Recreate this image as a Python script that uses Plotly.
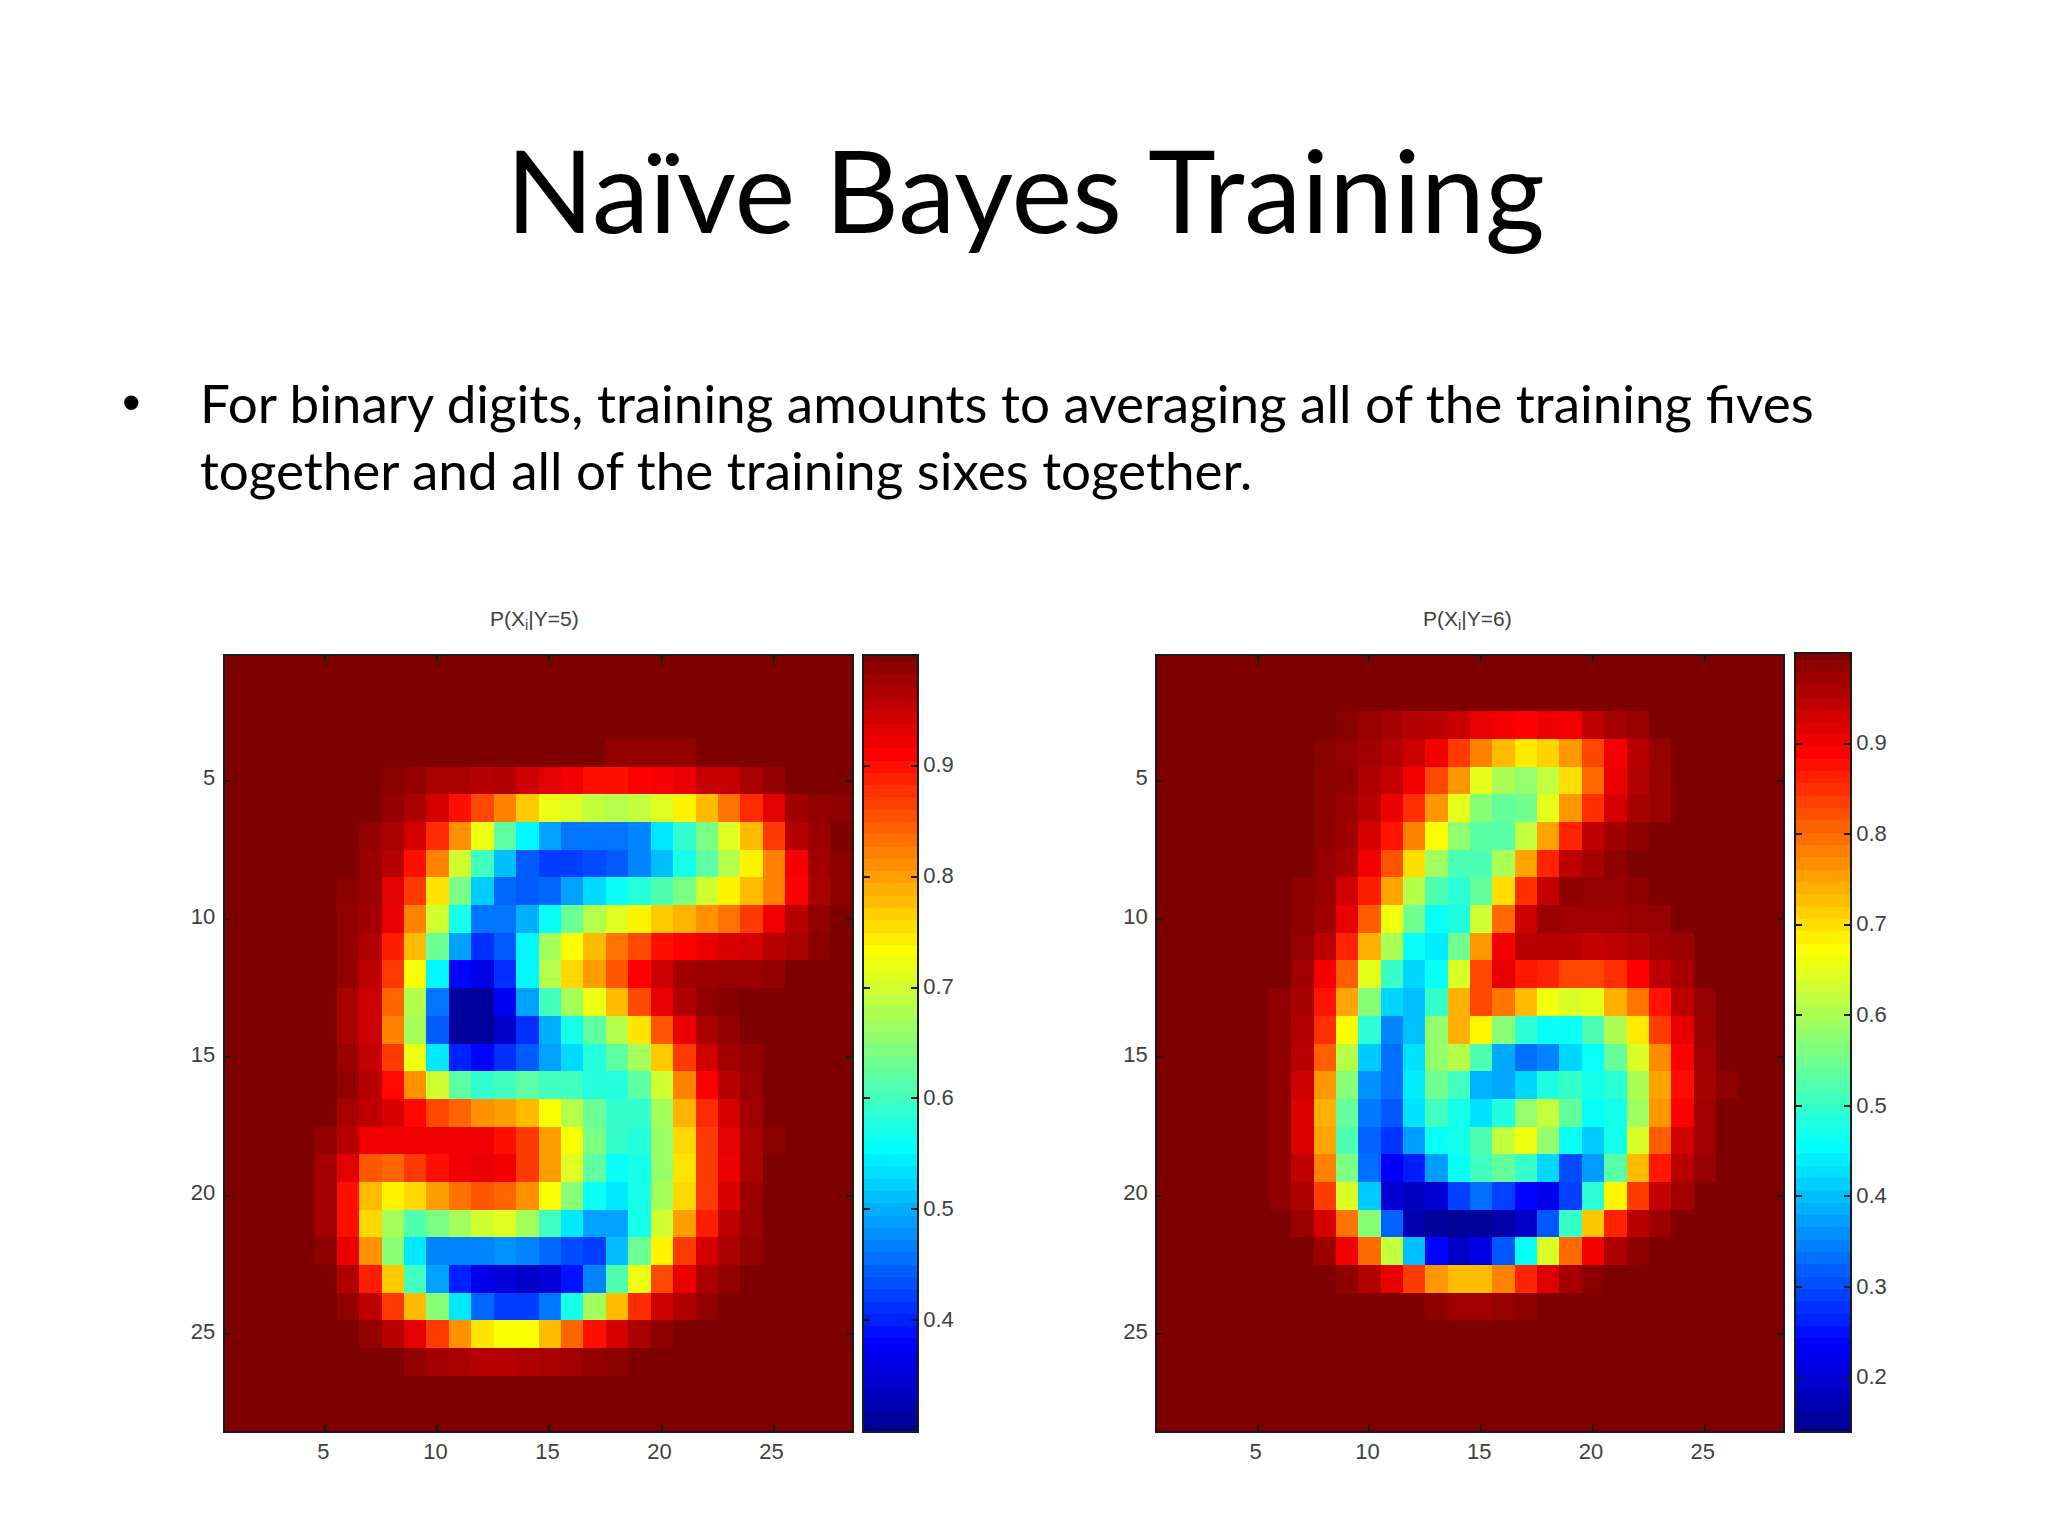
import numpy as np
import plotly.graph_objects as go

B = .999
GRID = list(range(1, 29))
TICKS = [5, 10, 15, 20, 25]

FIVE = [
    [B]*28,
    [B]*28,
    [B]*28,
    [B]*17 + [.985,.985,.985,.985] + [B]*7,
    [B]*7 + [.99,.985,.97,.97,.96,.965,.945,.93,.92,.90,.90,.91,.915,.925,.95,.95,.97,.985] + [B]*3,
    [B]*7 + [.985,.97,.94,.90,.86,.82,.77,.72,.71,.69,.68,.69,.71,.74,.78,.83,.88,.93,.975,.985,.99],
    [B]*6 + [.985,.97,.94,.88,.81,.72,.62,.55,.49,.46,.46,.46,.47,.54,.59,.64,.71,.78,.87,.96,.98] + [B],
    [B]*6 + [.98,.96,.90,.82,.70,.60,.51,.44,.42,.42,.43,.44,.47,.51,.57,.62,.68,.74,.82,.915,.975,.99],
    [B]*5 + [.99,.98,.93,.87,.75,.64,.52,.45,.44,.45,.49,.53,.56,.58,.61,.64,.70,.74,.78,.82,.91,.97,.99],
    [B]*5 + [.985,.975,.925,.82,.70,.57,.46,.46,.50,.56,.63,.68,.71,.74,.77,.785,.81,.83,.87,.92,.96,.985] + [B],
    [B]*5 + [.985,.965,.89,.78,.63,.49,.41,.44,.55,.67,.73,.78,.83,.86,.90,.91,.925,.935,.94,.96,.97,.99] + [B],
    [B]*5 + [.985,.955,.87,.73,.55,.38,.36,.41,.55,.68,.76,.80,.85,.91,.945,.975,.98,.98,.98,.985] + [B]*3,
    [B]*5 + [.97,.945,.84,.68,.46,.31,.31,.37,.49,.60,.67,.72,.78,.86,.925,.965,.985,.995] + [B]*5,
    [B]*5 + [.97,.945,.82,.67,.44,.31,.31,.34,.41,.50,.57,.62,.68,.75,.85,.925,.97,.985] + [B]*5,
    [B]*5 + [.98,.95,.87,.72,.54,.40,.38,.41,.44,.49,.53,.58,.62,.67,.77,.87,.945,.975,.985] + [B]*4,
    [B]*5 + [.985,.96,.905,.81,.70,.62,.59,.60,.62,.60,.60,.58,.58,.62,.70,.82,.91,.96,.98] + [B]*4,
    [B]*5 + [.97,.955,.935,.905,.86,.84,.81,.80,.78,.73,.68,.63,.59,.59,.67,.785,.88,.94,.975] + [B]*4,
    [B]*4 + [.985,.96,.92,.92,.92,.92,.92,.92,.90,.87,.80,.73,.64,.59,.58,.66,.76,.87,.93,.97,.99] + [B]*3,
    [B]*4 + [.975,.93,.85,.84,.87,.90,.92,.925,.92,.87,.80,.71,.62,.56,.57,.66,.75,.87,.925,.97] + [B]*4,
    [B]*4 + [.975,.90,.78,.74,.76,.80,.83,.85,.84,.81,.73,.65,.56,.54,.57,.67,.76,.87,.935,.98] + [B]*4,
    [B]*4 + [.975,.90,.76,.67,.61,.64,.67,.70,.71,.67,.60,.54,.49,.49,.57,.70,.80,.89,.955,.98] + [B]*4,
    [B]*4 + [.99,.925,.81,.65,.54,.47,.47,.47,.48,.47,.45,.43,.42,.51,.63,.74,.87,.94,.97,.985] + [B]*4,
    [B]*5 + [.965,.89,.77,.60,.49,.40,.36,.35,.34,.35,.39,.47,.61,.72,.86,.925,.97,.985] + [B]*5,
    [B]*5 + [.985,.955,.87,.78,.65,.54,.45,.42,.42,.46,.57,.67,.78,.88,.945,.965,.985] + [B]*6,
    [B]*6 + [.985,.96,.93,.87,.81,.75,.73,.73,.78,.84,.90,.94,.97,.99] + [B]*8,
    [B]*8 + [.985,.975,.97,.96,.96,.965,.97,.975,.985,.99] + [B]*10,
    [B]*28,
    [B]*28,
]

SIX = [
    [B]*28,
    [B]*28,
    [B]*8 + [.99,.975,.965,.955,.95,.935,.91,.90,.89,.905,.90,.945,.965,.975] + [B]*6,
    [B]*7 + [.99,.98,.97,.955,.935,.90,.84,.78,.73,.69,.71,.76,.83,.90,.95,.98] + [B]*5,
    [B]*7 + [.985,.985,.96,.94,.90,.83,.76,.65,.60,.58,.62,.70,.80,.905,.955,.975] + [B]*5,
    [B]*7 + [.985,.975,.95,.905,.85,.76,.65,.57,.54,.55,.65,.76,.85,.925,.965,.975] + [B]*5,
    [B]*7 + [.985,.97,.925,.875,.78,.67,.58,.53,.53,.62,.75,.86,.945,.97,.985] + [B]*6,
    [B]*7 + [.98,.965,.90,.82,.70,.59,.52,.52,.60,.75,.86,.945,.965,.985] + [B]*7,
    [B]*6 + [.985,.975,.93,.865,.75,.61,.52,.49,.54,.70,.85,.94,.985,.98,.98,.985] + [B]*6,
    [B]*6 + [.985,.97,.91,.81,.66,.55,.46,.48,.63,.80,.93,.975,.97,.97,.97,.975,.98] + [B]*5,
    [B]*6 + [.98,.945,.86,.74,.60,.46,.44,.55,.76,.90,.95,.95,.95,.94,.945,.955,.97,.975] + [B]*4,
    [B]*6 + [.97,.90,.81,.65,.50,.42,.46,.64,.83,.91,.87,.86,.83,.83,.85,.89,.945,.965] + [B]*4,
    [B]*5 + [.985,.965,.875,.75,.57,.42,.40,.50,.74,.83,.79,.73,.66,.64,.65,.74,.79,.875,.945,.98] + [B]*3,
    [B]*5 + [.985,.955,.85,.67,.49,.35,.40,.58,.74,.68,.57,.49,.46,.46,.52,.60,.69,.84,.91,.975] + [B]*3,
    [B]*5 + [.985,.95,.81,.61,.41,.33,.43,.58,.61,.52,.38,.33,.35,.42,.46,.54,.64,.77,.89,.97] + [B]*3,
    [B]*5 + [.985,.93,.76,.57,.36,.33,.44,.55,.51,.39,.38,.42,.48,.50,.47,.49,.60,.75,.88,.965,.985] + [B]*2,
    [B]*5 + [.985,.92,.74,.54,.34,.31,.43,.51,.47,.43,.48,.58,.62,.54,.46,.47,.59,.76,.89,.97] + [B]*3,
    [B]*5 + [.985,.92,.75,.52,.32,.28,.37,.46,.47,.52,.62,.66,.58,.46,.41,.47,.64,.81,.93,.97] + [B]*3,
    [B]*5 + [.985,.945,.78,.56,.33,.23,.26,.37,.46,.51,.54,.50,.42,.30,.37,.53,.73,.87,.95,.98] + [B]*3,
    [B]*5 + [.985,.96,.84,.64,.41,.20,.185,.20,.29,.33,.29,.24,.22,.29,.49,.68,.84,.94,.97] + [B]*4,
    [B]*6 + [.975,.925,.79,.57,.32,.17,.15,.145,.15,.165,.19,.31,.50,.72,.86,.95,.975] + [B]*5,
    [B]*7 + [.975,.90,.80,.62,.40,.24,.19,.21,.31,.46,.64,.80,.90,.96,.985] + [B]*6,
    [B]*8 + [.985,.955,.91,.84,.76,.73,.73,.78,.86,.92,.965,.99] + [B]*8,
    [B]*12 + [.985,.97,.97,.98,.985] + [B]*11,
    [B]*28,
    [B]*28,
    [B]*28,
    [B]*28,
]

assert all(len(r) == 28 for r in FIVE) and len(FIVE) == 28
assert all(len(r) == 28 for r in SIX) and len(SIX) == 28

JET = [[0, "rgb(0,0,143)"], [.111, "rgb(0,0,255)"], [.365, "rgb(0,255,255)"],
       [.619, "rgb(255,255,0)"], [.873, "rgb(255,0,0)"], [1, "rgb(127,0,0)"]]

W, H = 2048, 1536
INK = "#1a1a1a"
GREY = "#404040"
SANS = "Liberation Sans"
SLIDE = "Lato"


def fx(p):
    return p / W


def fy(p):
    return 1 - p / H


fig = go.Figure()
layout = {}
annots = []


def panel(idx, z, zmin, zmax, cbticks, title, x0, x1, cx0, cx1, y0, y1, ctop, title_x):
    a = 2 * idx - 1
    b = 2 * idx
    fig.add_trace(go.Heatmap(z=z, x=GRID, y=GRID, zmin=zmin, zmax=zmax, colorscale=JET,
                             showscale=False, xaxis=f"x{a}", yaxis=f"y{a}"))
    levels = np.linspace(zmin, zmax, 64)
    fig.add_trace(go.Heatmap(z=[[v] for v in levels], x=[0], y=levels, zmin=zmin, zmax=zmax,
                             colorscale=JET, showscale=False, xaxis=f"x{b}", yaxis=f"y{b}"))
    common = dict(showline=True, linecolor=INK, linewidth=1.5, mirror="ticks", ticks="inside",
                  ticklen=6, tickcolor=INK, tickwidth=1.5, showgrid=False, zeroline=False,
                  tickfont=dict(family=SANS, size=22, color=GREY))
    layout[f"xaxis{a}"] = dict(common, domain=[fx(x0), fx(x1)], range=[.5, 28.5], tickmode="array",
                               tickvals=TICKS, anchor=f"y{a}", ticklabelshift=-2)
    layout[f"yaxis{a}"] = dict(common, domain=[fy(y1), fy(y0)], range=[28.5, .5], tickmode="array",
                               tickvals=TICKS, anchor=f"x{a}", ticklabelstandoff=3, ticklabelshift=3)
    layout[f"xaxis{b}"] = dict(showline=True, linecolor=INK, linewidth=1.5, mirror=True,
                               showticklabels=False, ticks="", showgrid=False, zeroline=False,
                               domain=[fx(cx0), fx(cx1)], range=[-.5, .5], anchor=f"y{b}")
    layout[f"yaxis{b}"] = dict(common, domain=[fy(y1), fy(ctop)], range=[zmin, zmax], tickmode="array",
                               tickvals=cbticks, ticktext=[f"{t:.1f}" for t in cbticks],
                               side="right", anchor=f"x{b}", ticklabelshift=-1)
    annots.append(dict(text=title, x=fx(title_x), y=fy(620), xref="paper", yref="paper",
                       showarrow=False, xanchor="center", yanchor="middle",
                       font=dict(family=SANS, size=21, color=GREY)))


panel(1, FIVE, .30, .999, [.4, .5, .6, .7, .8, .9], "P(X<sub>i</sub>|Y=5)", 224.5, 852, 864, 917, 656, 1431, 656, 534)
panel(2, SIX, .141, .999, [.2, .3, .4, .5, .6, .7, .8, .9], "P(X<sub>i</sub>|Y=6)", 1157, 1783, 1796, 1850, 656, 1431, 654, 1467)

annots.append(dict(text="Naïve Bayes Training", x=fx(1025), y=fy(188), xref="paper", yref="paper",
                   showarrow=False, xanchor="center", yanchor="middle",
                   font=dict(family=SLIDE, size=115, color="#000000")))
annots.append(dict(text="•", x=fx(120), y=fy(402), xref="paper", yref="paper", showarrow=False,
                   xanchor="left", yanchor="middle", font=dict(family="Liberation Sans", size=53, color="#000000")))
annots.append(dict(text="For binary digits, training amounts to averaging all of the training fives",
                   x=fx(198), y=fy(402), xref="paper", yref="paper", showarrow=False, xanchor="left",
                   yanchor="middle", font=dict(family=SLIDE, size=53, color="#000000")))
annots.append(dict(text="together and all of the training sixes together.",
                   x=fx(198), y=fy(470), xref="paper", yref="paper", showarrow=False, xanchor="left",
                   yanchor="middle", font=dict(family=SLIDE, size=53, color="#000000")))

fig.update_layout(width=W, height=H, margin=dict(l=0, r=0, t=0, b=0), paper_bgcolor="white",
                  plot_bgcolor="white", showlegend=False, annotations=annots, **layout)
fig.write_html("out.html", config={"displayModeBar": False},
               post_script="document.body.style.margin='0';")
